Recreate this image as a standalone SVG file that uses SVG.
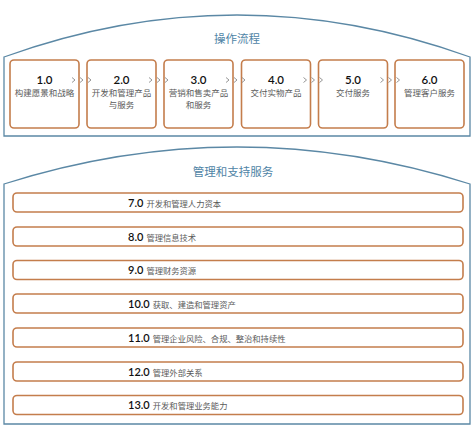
<svg xmlns="http://www.w3.org/2000/svg" width="474" height="428" viewBox="0 0 474 428">
<style>
.panel{fill:#ffffff;stroke:#5b88a5;stroke-width:1.3}
.ptitle{font-family:"Noto Sans CJK SC","Noto Sans",sans-serif;font-size:11.5px;fill:#4f84a6;text-anchor:middle}
.box{fill:#ffffff;stroke:#c47d4c;stroke-width:1.6}
.num{font-family:Lato,"Liberation Sans",sans-serif;font-size:11.5px;fill:#111;font-weight:600}
.lbl{font-family:"Noto Sans CJK SC","Noto Sans",sans-serif;font-size:8.5px;fill:#5a5a5a;text-anchor:middle}
.bnum{font-family:Lato,"Liberation Sans",sans-serif;font-size:11px;fill:#111;font-weight:600}
.blbl{font-family:"Noto Sans CJK SC","Noto Sans",sans-serif;font-size:8.3px;fill:#5a5a5a}
.chev{fill:none;stroke:#8a8a8a;stroke-width:0.9}
</style>
<rect width="474" height="428" fill="#ffffff"/>
<g id="panel-ops">
<path class="panel" d="M4,136 L4,57 Q237,-27 470,57 L470,136 Z"/>
<text class="ptitle" x="237" y="43">操作流程</text>
</g>
<g id="n1"><rect class="box" x="10" y="60" width="69" height="68" rx="4"/><text class="num" x="44.5" y="84" text-anchor="middle">1.0</text><text class="lbl" x="44.5" y="96">构建愿景和战略</text></g>
<g id="n2"><rect class="box" x="87" y="60" width="69" height="68" rx="4"/><text class="num" x="121.5" y="84" text-anchor="middle">2.0</text><text class="lbl" x="121.5" y="96">开发和管理产品</text><text class="lbl" x="121.5" y="108">与服务</text></g>
<g id="n3"><rect class="box" x="164" y="60" width="69" height="68" rx="4"/><text class="num" x="198.5" y="84" text-anchor="middle">3.0</text><text class="lbl" x="198.5" y="96">营销和售卖产品</text><text class="lbl" x="198.5" y="108">和服务</text></g>
<g id="n4"><rect class="box" x="241.5" y="60" width="69" height="68" rx="4"/><text class="num" x="276" y="84" text-anchor="middle">4.0</text><text class="lbl" x="276" y="96">交付实物产品</text></g>
<g id="n5"><rect class="box" x="318.5" y="60" width="69" height="68" rx="4"/><text class="num" x="353" y="84" text-anchor="middle">5.0</text><text class="lbl" x="353" y="96">交付服务</text></g>
<g id="n6"><rect class="box" x="395" y="60" width="69" height="68" rx="4"/><text class="num" x="429.5" y="84" text-anchor="middle">6.0</text><text class="lbl" x="429.5" y="96">管理客户服务</text></g>
<g id="connectors">
<path class="chev" d="M72,77.5 l3,2.5 l-3,2.5 M80,77.5 l3,2.5 l-3,2.5 M88,77.5 l3,2.5 l-3,2.5"/>
<path class="chev" d="M149,77.5 l3,2.5 l-3,2.5 M157,77.5 l3,2.5 l-3,2.5 M165,77.5 l3,2.5 l-3,2.5"/>
<path class="chev" d="M226,77.5 l3,2.5 l-3,2.5 M234,77.5 l3,2.5 l-3,2.5 M242,77.5 l3,2.5 l-3,2.5"/>
<path class="chev" d="M303.5,77.5 l3,2.5 l-3,2.5 M311.5,77.5 l3,2.5 l-3,2.5 M319.5,77.5 l3,2.5 l-3,2.5"/>
<path class="chev" d="M380.5,77.5 l3,2.5 l-3,2.5 M388.5,77.5 l3,2.5 l-3,2.5 M396.5,77.5 l3,2.5 l-3,2.5"/>
</g>
<g id="panel-support">
<path class="panel" d="M4,424 L4,184 Q237,110 470,184 L470,424 Z"/>
<text class="ptitle" x="233" y="176">管理和支持服务</text>
</g>
<g id="n7"><rect class="box" x="13" y="193" width="450" height="19" rx="4"/><text x="128" y="206.5"><tspan class="bnum">7.0</tspan><tspan class="blbl" dx="3">开发和管理人力资本</tspan></text></g>
<g id="n8"><rect class="box" x="13" y="227" width="450" height="19" rx="4"/><text x="128" y="240.5"><tspan class="bnum">8.0</tspan><tspan class="blbl" dx="3">管理信息技术</tspan></text></g>
<g id="n9"><rect class="box" x="13" y="260.5" width="450" height="19" rx="4"/><text x="128" y="274"><tspan class="bnum">9.0</tspan><tspan class="blbl" dx="3">管理财务资源</tspan></text></g>
<g id="n10"><rect class="box" x="13" y="294" width="450" height="19" rx="4"/><text x="128" y="307.5"><tspan class="bnum">10.0</tspan><tspan class="blbl" dx="3">获取、建造和管理资产</tspan></text></g>
<g id="n11"><rect class="box" x="13" y="328" width="450" height="19" rx="4"/><text x="128" y="341.5"><tspan class="bnum">11.0</tspan><tspan class="blbl" dx="3">管理企业风险、合规、整治和持续性</tspan></text></g>
<g id="n12"><rect class="box" x="13" y="362" width="450" height="19" rx="4"/><text x="128" y="375.5"><tspan class="bnum">12.0</tspan><tspan class="blbl" dx="3">管理外部关系</tspan></text></g>
<g id="n13"><rect class="box" x="13" y="395.5" width="450" height="19" rx="4"/><text x="128" y="409"><tspan class="bnum">13.0</tspan><tspan class="blbl" dx="3">开发和管理业务能力</tspan></text></g>
</svg>
